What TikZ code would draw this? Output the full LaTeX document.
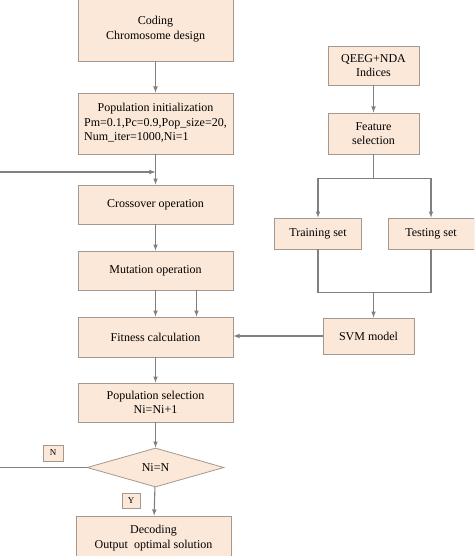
\documentclass[tikz,border=0pt]{standalone}
\usepackage{fontspec}
\setmainfont{Liberation Serif}
\usepackage{tikz}
\usetikzlibrary{arrows,shapes,positioning}
\usepackage{xcolor}
\definecolor{gapeach}{RGB}{251,232,216}
\definecolor{gaedge}{RGB}{165,152,142}
\definecolor{gagray}{RGB}{128,128,128}
\tikzstyle{arrow} = [line width=1.1pt,->,>=latex,color=gagray]
\tikzstyle{line} = [line width=1.1pt,color=gagray]
\tikzstyle{gabox} = [rectangle, minimum width=155pt, minimum height=39pt, inner sep=2pt, align=center, draw=gaedge, fill=gapeach, line width=0.8pt, font=\fontsize{12}{14.5}\selectfont]
\tikzstyle{tag} = [rectangle, inner sep=0pt, draw=gaedge, fill=gapeach, line width=0.6pt, font=\fontsize{9}{10}\selectfont]

\begin{document}
\begin{tikzpicture}[x=1pt,y=-1pt]
\useasboundingbox (0,0) rectangle (474,556);
\clip (0,0) rectangle (474,556);
% GA loop
\node[gabox, minimum height=64pt] (coding) at (155.5,29) {Coding\\Chromosome design};
\node[gabox, minimum height=61pt] (init) at (155.5,123.5) {\begin{tabular}{@{}l@{}}\multicolumn{1}{@{}c@{}}{Population initialization}\\Pm=0.1,Pc=0.9,Pop\_size=20,\\Num\_iter=1000,Ni=1\end{tabular}};
\node[gabox] (cross) at (155.5,204.5) {Crossover operation};
\node[gabox] (mut) at (155.5,270.5) {Mutation operation};
\node[gabox, minimum height=40pt] (fit) at (155.5,337) {Fitness calculation};
\node[gabox] (sel) at (155.5,402.5) {Population selection\\Ni=Ni+1};
\node[diamond, aspect=3.5, minimum width=137pt, minimum height=39pt, inner sep=0pt, draw=gaedge, fill=gapeach, line width=0.8pt, font=\fontsize{12}{14}\selectfont] (stop) at (155.5,467.5) {Ni=N};
\node[gabox, minimum height=44pt] (dec) at (153.5,538) {Decoding\\Output\ \ optimal solution};
\node[tag, minimum width=20pt, minimum height=16pt] (no) at (53,453) {N};
\node[tag, minimum width=18pt, minimum height=15pt] (yes) at (131,500.5) {Y};

% SVM side
\node[gabox, minimum width=91pt] (qeeg) at (373.5,65.5) {QEEG+NDA\\Indices};
\node[gabox, minimum width=91pt, minimum height=41pt] (feat) at (373.5,133.5) {Feature\\selection};
\node[gabox, minimum width=87pt, minimum height=31pt] (train) at (318,233.5) {Training set};
\node[gabox, minimum width=86pt, minimum height=31pt] (test) at (431,233.5) {Testing set};
\node[gabox, minimum width=91pt, minimum height=36pt] (svm) at (368.5,336) {SVM model};

% connectors
\draw[arrow] (coding) -- (init);
\draw[arrow] (init) -- (cross);
\draw[arrow] (cross) -- (mut);
\draw[arrow] (mut) -- (fit);
\draw[arrow] ([xshift=41pt]mut.south) -- ([xshift=41pt]fit.north);
\draw[arrow] (fit) -- (sel);
\draw[arrow] (sel) -- (stop);
\draw[arrow] (stop) -- (dec);
\coordinate (back) at (-10,172);
\draw[arrow] (stop.west) -| (back) -- (back -| init.south);

\draw[arrow] (qeeg) -- (feat);
\draw[line] (feat.south) -- ++(0,24) coordinate (split);
\draw[arrow] (split) -| (train.north);
\draw[arrow] (split) -| (test.north);
\draw[line] (train.south) -- ++(0,43) coordinate (tj) -| (test.south);
\coordinate (join) at (split |- tj);
\draw[arrow] (join) -- (join |- svm.north);
\draw[arrow] (svm.west) -- (svm.west -| fit.east);
\end{tikzpicture}
\end{document}
